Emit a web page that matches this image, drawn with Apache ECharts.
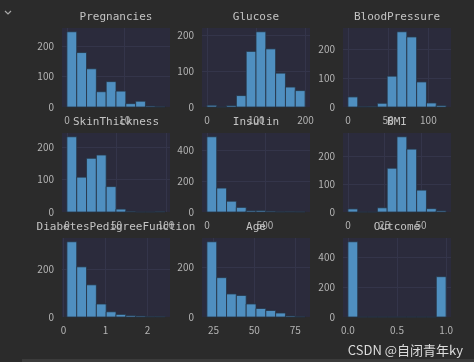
<!DOCTYPE html>
<html>
<head>
<meta charset="utf-8">
<script src="https://cdn.jsdelivr.net/npm/echarts@6/dist/echarts.min.js"></script>
<style>
html,body{margin:0;padding:0;background:#2b2b2b;}
#c{width:474px;height:362px;}
</style>
</head>
<body>
<div id="c"></div>
<script>
// ---- data ----
const titles = ['Pregnancies','Glucose','BloodPressure','SkinThickness','Insulin','BMI','DiabetesPedigreeFunction','Age','Outcome'];
const pregnancies = [246,178,125,50,83,52,11,19,3,1];
const glucose = [5,0,4,32,156,211,163,95,56,46];
const bloodPressure = [35,1,2,13,107,261,243,87,14,5];
const skinThickness = [231,107,165,175,78,9,2,0,0,1];
const insulin = [487,155,70,30,8,9,5,1,2,1];
const bmi = [11,0,0,15,156,268,224,78,12,4];
const pedigree = [318,212,136,55,22,11,6,4,2,2];
const age = [300,157,92,86,52,34,26,16,4,1];
const outcome = [500,0,0,0,0,0,0,0,0,268];
const counts = [pregnancies,glucose,bloodPressure,skinThickness,insulin,bmi,pedigree,age,outcome];
const ranges = [[0,17],[0,199],[0,122],[0,99],[0,846],[0,67.1],[0.078,2.42],[21,81],[0,1]];
const xTicks = [[0,10],[0,100,200],[0,50,100],[0,50,100],[0,500],[0,25,50],[0,1,2],[25,50,75],[0,0.5,1]];
const yTicks = [[0,100,200],[0,100,200],[0,100,200],[0,100,200],[0,200,400],[0,100,200],[0,200],[0,200],[0,200,400]];

// ---- style / layout ----
const colLeft = [62,202,343], colW = 108;
const rowTop = [28,133,238], rowH = 79;
const barColor = '#4f8fc0', edgeColor = '#263444';
const panelBg = '#2b2b3c', gridColor = '#34354a';
const tickColor = '#b4b4b4', titleColor = '#c4c4c4';

const grids = [], xAxes = [], yAxes = [], series = [], graphics = [];
counts.forEach((cnt, i) => {
  const r = Math.floor(i/3), c = i%3;
  const [lo, hi] = ranges[i];
  const span = hi - lo;
  const xmin = lo - 0.05*span, xmax = hi + 0.05*span;
  const ymax = Math.max(...cnt) * 1.05;
  grids.push({left: colLeft[c], top: rowTop[r], width: colW, height: rowH,
    show: true, backgroundColor: panelBg, borderWidth: 0});
  xAxes.push({type:'value', gridIndex:i, min:xmin, max:xmax,
    axisLine:{show:false}, axisTick:{show:false}, splitLine:{show:false},
    axisLabel:{customValues: xTicks[i], color: tickColor, fontSize: 10, margin: 8,
      fontFamily:'Noto Sans CJK SC',
      formatter: v => (i===8 ? v.toFixed(1) : String(v))}});
  const yi = yTicks[i][1]-yTicks[i][0];
  yAxes.push({type:'value', gridIndex:i, min:0, max:ymax, interval: yi,
    axisLine:{show:false}, axisTick:{show:false},
    splitLine:{show:false},
    axisLabel:{showMaxLabel:false, color: tickColor, fontSize: 10, margin: 8,
      fontFamily:'Noto Sans CJK SC'}});
  const binW = span/10;
  const data = cnt.map((v,k) => [lo + k*binW, lo + (k+1)*binW, v]);
  // gridlines (under the bars)
  series.push({type:'line', xAxisIndex:i, yAxisIndex:i, data:[], z:1, silent:true,
    markLine:{silent:true, z:1, symbol:'none', label:{show:false},
      lineStyle:{color:gridColor, width:1, type:'solid'},
      data: xTicks[i].map(v => ({xAxis:v})).concat(yTicks[i].slice(1).map(v => ({yAxis:v})))}});
  series.push({type:'custom', xAxisIndex:i, yAxisIndex:i, z:3, data,
    encode:{x:[0,1], y:2},
    renderItem: (params, api) => {
      const p0 = api.coord([api.value(0), api.value(2)]);
      const p1 = api.coord([api.value(1), 0]);
      return {type:'rect', shape:{x:p0[0], y:p0[1], width:p1[0]-p0[0], height:p1[1]-p0[1]},
        style:{fill:barColor, stroke:edgeColor, lineWidth:0.8}};
    }});
  graphics.push({type:'text', x: colLeft[c] + colW/2, y: rowTop[r] - 11,
    style:{text: titles[i], fill: titleColor, font:'11px "DejaVu Sans Mono"',
      textAlign:'center', textVerticalAlign:'middle'}, z: 5});
});

graphics.push({type:'polyline', shape:{points:[[5,11],[8,14],[11,11]]},
  style:{stroke:'#a8a8a8', lineWidth:1.2, fill:null}});
graphics.push({type:'rect', shape:{x:22, y:359, width:452, height:3}, style:{fill:'#3b3b3b'}});
graphics.push({type:'text', x: 463, y: 350,
  style:{text:'CSDN @自闭青年ky', fill:'#dcdcdc', font:'13px "Noto Sans CJK SC"',
    textAlign:'right', textVerticalAlign:'middle'}, z: 6});

const chart = echarts.init(document.getElementById('c'), null, {renderer:'canvas'});
chart.setOption({
  backgroundColor:'#2b2b2b',
  animation:false,
  grid: grids, xAxis: xAxes, yAxis: yAxes, series,
  graphic: graphics
});
</script>
</body>
</html>
